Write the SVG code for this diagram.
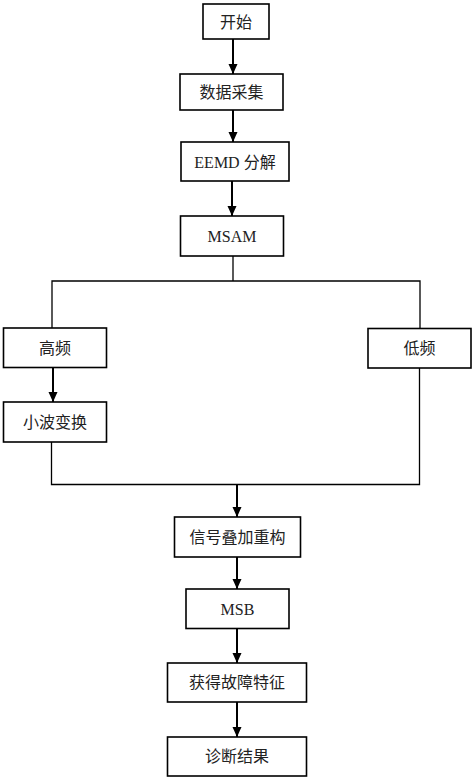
<svg xmlns="http://www.w3.org/2000/svg" width="474" height="778" viewBox="0 0 474 778">
<style>
.box{fill:#fff;stroke:#000;stroke-width:1.6}
.t{font-family:"Liberation Serif","Noto Sans CJK SC",serif;font-size:16px;fill:#222;text-anchor:middle;dominant-baseline:central}
.ln{fill:none;stroke:#000;stroke-width:1.3}
.ar{fill:none;stroke:#000;stroke-width:2;marker-end:url(#ah)}
</style>
<defs>
<marker id="ah" markerWidth="10" markerHeight="10" viewBox="0 0 10 10" refX="10" refY="5" orient="auto" markerUnits="userSpaceOnUse">
<path d="M0,0.5 L10,5 L0,9.5 Z" fill="#000"/>
</marker>
</defs>
<g id="connectors">
<line class="ar" x1="233" y1="39" x2="233" y2="74"/>
<line class="ar" x1="233" y1="110" x2="233" y2="142"/>
<line class="ar" x1="232" y1="181" x2="232" y2="216"/>
<polyline class="ln" points="233,256 233,281"/>
<polyline class="ln" points="52,328 52,281 420,281 420,328"/>
<line class="ar" x1="53" y1="367" x2="53" y2="402"/>
<polyline class="ln" points="51.5,442 51.5,484.5 419.5,484.5 419.5,368"/>
<line class="ar" x1="237" y1="484.5" x2="237" y2="517"/>
<line class="ar" x1="237" y1="557" x2="237" y2="589"/>
<line class="ar" x1="237" y1="628" x2="237" y2="663"/>
<line class="ar" x1="237" y1="702" x2="237" y2="737"/>
</g>
<g id="n1"><rect class="box" x="203" y="4" width="66" height="35"/><text class="t" x="236" y="22">开始</text></g>
<g id="n2"><rect class="box" x="180" y="74" width="103" height="36"/><text class="t" x="231.5" y="92">数据采集</text></g>
<g id="n3"><rect class="box" x="181" y="142" width="108" height="39"/><text class="t" x="235" y="162">EEMD 分解</text></g>
<g id="n4"><rect class="box" x="180.5" y="216" width="103" height="40"/><text class="t" x="232" y="236">MSAM</text></g>
<g id="n5"><rect class="box" x="3.5" y="328" width="103" height="39.5"/><text class="t" x="55" y="348">高频</text></g>
<g id="n6"><rect class="box" x="368" y="328.5" width="103" height="39.5"/><text class="t" x="419.5" y="348">低频</text></g>
<g id="n7"><rect class="box" x="3.5" y="402" width="103" height="40"/><text class="t" x="55" y="422">小波变换</text></g>
<g id="n8"><rect class="box" x="174.5" y="517" width="126" height="40"/><text class="t" x="237.5" y="537">信号叠加重构</text></g>
<g id="n9"><rect class="box" x="186" y="589" width="103" height="39.5"/><text class="t" x="237.5" y="609">MSB</text></g>
<g id="n10"><rect class="box" x="167.5" y="663" width="139" height="39"/><text class="t" x="237" y="682.5">获得故障特征</text></g>
<g id="n11"><rect class="box" x="167.5" y="737" width="139" height="39"/><text class="t" x="237" y="756.5">诊断结果</text></g>
</svg>
